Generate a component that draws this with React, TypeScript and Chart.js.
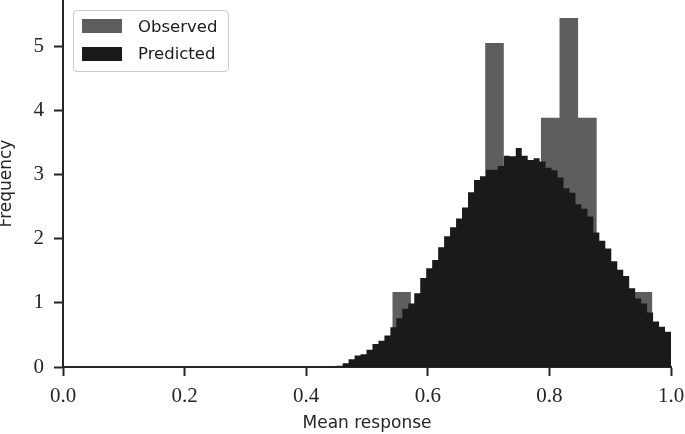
import React, { useEffect, useRef } from "react";
import { Chart, registerables } from "chart.js";

Chart.register(...registerables);

// Observed histogram (density), 14 equal-width bins
const observedBinStart = 0.5416;
const observedBinWidth = 0.03056;
const observedValues = [1.17, 0.78, 1.17, 1.94, 2.33, 5.06, 2.72, 3.11, 3.89, 5.45, 3.89, 1.56, 1.17, 1.17];

// Predicted histogram (density), fine bins ending at 1.0
const predictedBinStart = 0.4108;
const predictedBinWidth = 0.00982;
const predictedValues = [
  0.0, 0.0, 0.003, 0.006, 0.02, 0.06, 0.12, 0.18, 0.2, 0.27,
  0.36, 0.41, 0.49, 0.62, 0.76, 0.91, 0.99, 1.15, 1.39, 1.54,
  1.67, 1.87, 2.04, 2.18, 2.32, 2.49, 2.73, 2.92, 2.98, 3.08,
  3.08, 3.14, 3.3, 3.29, 3.42, 3.3, 3.23, 3.26, 3.21, 3.11,
  3.07, 2.96, 2.79, 2.72, 2.54, 2.47, 2.35, 2.1, 1.97, 1.85,
  1.65, 1.52, 1.42, 1.23, 1.07, 0.99, 0.85, 0.71, 0.63, 0.55,
];

const xTicks = [0, 0.2, 0.4, 0.6, 0.8, 1.0];
const yTicks = [0, 1, 2, 3, 4, 5];
const seriesLabels = ["Observed", "Predicted"];

const OBS_COLOR = "#5e5e5e";
const PRED_COLOR = "#1a1a1a";
const AXIS_COLOR = "#262626";
const SERIF = "'Liberation Serif', 'DejaVu Serif', serif";
const SANS = "'DejaVu Sans', sans-serif";

// Each point is a bin's left edge carrying that bin's value; the final
// point closes the last bin at its right edge.
function histPoints(start: number, width: number, values: number[]) {
  const pts = values.map((v, i) => ({ x: start + i * width, y: v }));
  pts.push({ x: start + values.length * width, y: 0 });
  return pts;
}

export default function App() {
  const ref = useRef<HTMLCanvasElement | null>(null);

  useEffect(() => {
    if (!ref.current) return;
    const chart = new Chart(ref.current, {
      type: "line",
      data: {
        datasets: [
          {
            label: seriesLabels[0],
            data: histPoints(observedBinStart, observedBinWidth, observedValues),
            stepped: "before",
            fill: "origin",
            backgroundColor: OBS_COLOR,
            borderColor: OBS_COLOR,
            borderWidth: 0,
            pointRadius: 0,
            order: 1,
          },
          {
            label: seriesLabels[1],
            data: histPoints(predictedBinStart, predictedBinWidth, predictedValues),
            stepped: "before",
            fill: "origin",
            backgroundColor: PRED_COLOR,
            borderColor: PRED_COLOR,
            borderWidth: 0,
            pointRadius: 0,
            order: 0,
          },
        ],
      },
      options: {
        animation: false,
        responsive: false,
        devicePixelRatio: 1,
        layout: { padding: { left: 0, right: 14, top: 0, bottom: 0 } },
        plugins: { legend: { display: false }, tooltip: { enabled: false } },
        scales: {
          x: {
            type: "linear",
            min: 0,
            max: 1,
            afterBuildTicks: (s: any) => {
              s.ticks = xTicks.map((v) => ({ value: v }));
            },
            afterFit: (s: any) => {
              s.height = 67;
              s.paddingLeft = 0;
              s.paddingRight = 0;
            },
            ticks: {
              font: { family: SERIF, size: 21 },
              color: AXIS_COLOR,
              padding: 8,
              maxRotation: 0,
              callback: (v: any) => Number(v).toFixed(1),
            },
            grid: {
              drawOnChartArea: false,
              drawTicks: true,
              tickLength: 9,
              tickWidth: 2,
              tickColor: AXIS_COLOR,
            },
            border: { display: true, color: AXIS_COLOR, width: 2 },
            title: {
              display: true,
              text: "Mean response",
              font: { family: SANS, size: 17 },
              color: AXIS_COLOR,
              padding: { top: 0, bottom: 0 },
            },
          },
          y: {
            type: "linear",
            min: 0,
            max: 5.73,
            afterBuildTicks: (s: any) => {
              s.ticks = yTicks.map((v) => ({ value: v }));
            },
            afterFit: (s: any) => {
              s.width = 71;
              s.paddingTop = 0;
              s.paddingBottom = 0;
            },
            ticks: {
              font: { family: SERIF, size: 21 },
              color: AXIS_COLOR,
              padding: 10,
              callback: (v: any) => String(v),
            },
            grid: {
              drawOnChartArea: false,
              drawTicks: true,
              tickLength: 9,
              tickWidth: 2,
              tickColor: AXIS_COLOR,
            },
            border: { display: true, color: AXIS_COLOR, width: 2 },
            title: {
              display: true,
              text: "Frequency",
              font: { family: SANS, size: 17 },
              color: AXIS_COLOR,
              padding: { top: 4, bottom: 0 },
            },
          },
        },
      },
    });
    return () => chart.destroy();
  }, []);

  const legendText: React.CSSProperties = {
    position: "absolute",
    left: 138,
    fontFamily: SANS,
    fontSize: 16.5,
    lineHeight: "20px",
    color: "#1a1a1a",
    whiteSpace: "nowrap",
  };

  return (
    <div
      style={{
        position: "absolute",
        left: 0,
        top: 0,
        width: 685,
        height: 434,
        overflow: "hidden",
        background: "#ffffff",
      }}
    >
      <canvas
        ref={ref}
        width={693}
        height={434}
        style={{ position: "absolute", left: -8, top: 0, width: 693, height: 434 }}
      />
      <div
        style={{
          position: "absolute",
          left: 73,
          top: 10,
          width: 156,
          height: 62,
          boxSizing: "border-box",
          border: "1.5px solid #cccccc",
          borderRadius: 4,
          background: "rgba(255,255,255,0.8)",
        }}
      />
      <div style={{ position: "absolute", left: 82, top: 19, width: 40, height: 14, background: OBS_COLOR }} />
      <div style={{ position: "absolute", left: 82, top: 47, width: 40, height: 14, background: PRED_COLOR }} />
      <div style={{ ...legendText, top: 17 }}>{seriesLabels[0]}</div>
      <div style={{ ...legendText, top: 44 }}>{seriesLabels[1]}</div>
    </div>
  );
}
